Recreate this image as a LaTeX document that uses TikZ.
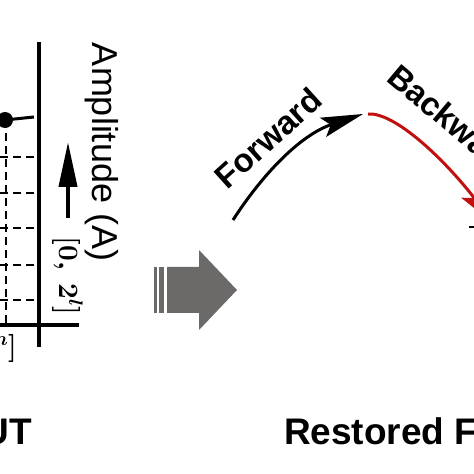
\documentclass[tikz,border=0pt]{standalone}
\usepackage{fix-cm}
\usepackage{fontspec}
\setmainfont{Liberation Sans}
\usetikzlibrary{arrows.meta}
\definecolor{arrgray}{RGB}{108,105,105}
\definecolor{bwred}{RGB}{192,16,16}
\tikzset{
  axisline/.style={line width=4pt},
  gridline/.style={line width=1.8pt, dash pattern=on 8pt off 5pt},
  txt/.style={inner sep=0pt, outer sep=0pt},
  bigsans/.style={txt, font=\fontsize{36}{40}\selectfont},
  boldlbl/.style={txt, font=\fontsize{33}{36}\selectfont\bfseries},
  titlelbl/.style={txt, font=\fontsize{37}{40}\selectfont\bfseries},
  mathlbl/.style={txt, font=\fontsize{28}{30}\selectfont\boldmath},
  bigarrow/.style={line width=3pt, -{Stealth[length=42pt,width=20pt,inset=8pt]}},
  dotst/.style={circle, fill=black, inner sep=0pt, minimum size=16pt},
}
\begin{document}
\begin{tikzpicture}[x=1pt,y=1pt]
\useasboundingbox (0,0) rectangle (474,474);
\clip (0,0) rectangle (474,474);

% axes
\coordinate (ytop) at (39,432);
\coordinate (ybot) at (39,127);
\coordinate (xl) at (0,149);
\coordinate (xr) at (79,149);
\draw[axisline] (ytop) -- (ybot);
\draw[axisline] (xl) -- (xr);

% dashed grid
\coordinate (vtop) at (6,354);
\coordinate (vbot) at (6,149);
\draw[gridline] (vtop) -- (vbot);
\foreach \yy [count=\i] in {317,281,246,209,174}{
  \coordinate (h\i l) at (0,\yy);
  \coordinate (h\i r) at (37,\yy);
  \draw[gridline] (h\i l) -- (h\i r);
}

% data point
\node[dotst] (pt) at (5,354) {};
\coordinate (lvlend) at (34,357);
\draw[line width=3pt] (pt.center) -- (lvlend);

% up arrow
\coordinate (ua) at (68,256);
\coordinate (ub) at (68,332);
\draw[line width=4pt, -{Triangle[length=45pt,width=18pt]}] (ua) -- (ub);

% labels on axis
\node[bigsans, rotate=-90, anchor=base west] (amp) at (92,431) {Amplitude (A)};
\node[mathlbl, rotate=-90, anchor=base west] (rng) at (59,237) {$[0,\ 2^{l}]$};
\node[mathlbl, anchor=base east] (xrng) at (17,118) {$[0,\ 2^{n}]$};

% gray block arrow
\fill[arrgray] (154,207) rectangle (157,161);
\fill[arrgray] (159,207) rectangle (164,161);
\fill[arrgray] (167,207) -- (199,207) -- (199,224) -- (237,184) -- (199,144) -- (199,161) -- (167,161) -- cycle;

% forward / backward curves
\coordinate (fs) at (233,254);
\coordinate (fe) at (363,360);
\draw[bigarrow] (fs) .. controls (262,299) and (300,339) .. (fe);
\coordinate (bs) at (368,360);
\coordinate (be) at (495,249);
\draw[bigarrow, bwred] (bs) .. controls (395,362) and (445,314) .. (be);

\node[boldlbl, rotate=42] (fw) at (268,336) {Forward};
\node[boldlbl, rotate=-40, anchor=west] (bw) at (393,403) {Backward};

% tiny mark at right edge
\coordinate (m1) at (469,247);
\coordinate (m2) at (474,247);
\draw[line width=2pt] (m1) -- (m2);

% titles
\node[titlelbl, anchor=base east] (lut) at (32,29) {LUT};
\node[titlelbl, anchor=base west] (rest) at (284,29) {Restored Function};
\end{tikzpicture}
\end{document}
